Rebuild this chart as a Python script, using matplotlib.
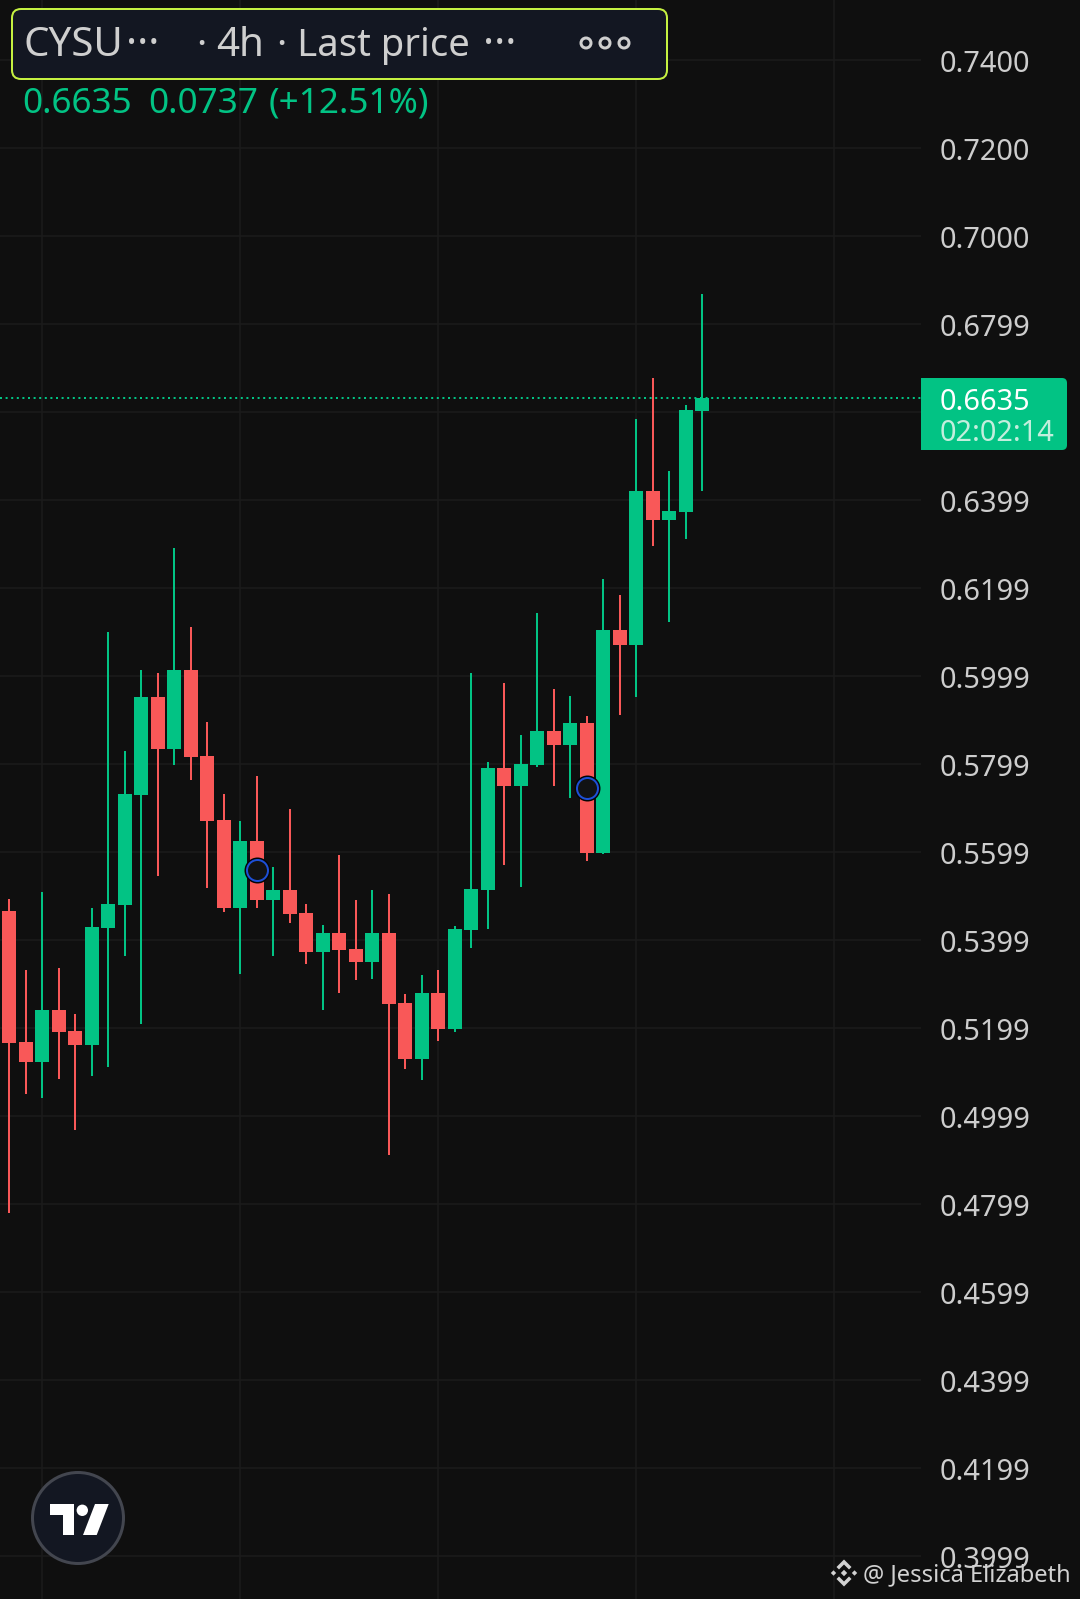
import matplotlib
matplotlib.use("Agg")
import matplotlib.pyplot as plt
from matplotlib.patches import Circle, FancyBboxPatch, Rectangle, Polygon
from matplotlib.transforms import ScaledTranslation

plt.rcParams['font.family'] = ['Noto Sans', 'DejaVu Sans']

highs = [.5493,.5331,.5509,.5337,.5232,.5472,.6100,.5830,.6013,.6006,.6292,.6112,.5895,.5732,.5671,.5773,.5566,.5698,.5482,.5434,.5593,.5491,
         .5514,.5505,.5278,.5321,.5332,.5432,.6007,.5804,.5985,.5866,.6144,.5971,.5955,.5909,.6221,.6184,.6584,.6677,.6466,.6616,.6868]
lows = [.4779,.5050,.5041,.5084,.4968,.5091,.5112,.5364,.5209,.5545,.5798,.5764,.5519,.5464,.5323,.5472,.5364,.5439,.5345,.5241,.5279,.5309,
        .5312,.4912,.5107,.5082,.5171,.5191,.5382,.5425,.5571,.5520,.5793,.5750,.5723,.5580,.5596,.5911,.5952,.6296,.6123,.6311,.6421]
opens = [.5466,.5168,.5123,.5241,.5193,.5161,.5427,.5479,.5730,.5952,.5834,.6013,.5819,.5672,.5472,.5625,.5491,.5513,.5461,.5372,.5416,.5379,
         .5350,.5416,.5257,.5130,.5280,.5198,.5423,.5514,.5791,.5750,.5798,.5875,.5843,.5894,.5598,.6105,.6071,.6421,.6355,.6373,.6602]
closes = [.5166,.5123,.5241,.5191,.5161,.5430,.5482,.5732,.5952,.5834,.6013,.5816,.5671,.5472,.5625,.5491,.5513,.5459,.5372,.5416,.5377,.5349,
          .5416,.5255,.5130,.5280,.5198,.5425,.5516,.5791,.5750,.5800,.5875,.5843,.5894,.5598,.6105,.6071,.6421,.6355,.6375,.6605,.6632]
tick_values = [.7399,.7199,.6999,.6799,.6599,.6399,.6199,.5999,.5799,.5599,.5399,.5199,.4999,.4799,.4599,.4399,.4199,.3999]
tick_labels = ['0.7400','0.7200','0.7000','0.6799','','0.6399','0.6199','0.5999','0.5799','0.5599','0.5399','0.5199','0.4999','0.4799','0.4599','0.4399','0.4199','0.3999']
vgrid_index = [2, 14, 26, 38, 50]
signal_index = [15, 35]
signal_price = [.5559, .5746]
last_line = 0.6632

BG = '#0f0f0f'; GRID = '#1b1b1b'; GREEN = '#02c384'; RED = '#f95858'; TXT = '#cdcdcd'
W, H = 1080, 1599
PT = 72 / 100  # points per pixel
STEP = 16.5

fig = plt.figure(figsize=(W / 100, H / 100), dpi=100, facecolor=BG)
ax = fig.add_axes([0, 0, 921 / W, 1])
ax.set_facecolor(BG)
ax.set_xlim(-9 / STEP, (921 - 9) / STEP)
ax.set_ylim(.6799 - 1274.5 / 4400, .6799 + 324.5 / 4400)
for s in ax.spines.values():
    s.set_visible(False)
ax.set_xticks(vgrid_index)
ax.set_xticklabels([])
ax.set_yticks(tick_values)
ax.set_yticklabels(tick_labels, fontsize=20.8, color=TXT)
ax.yaxis.tick_right()
ax.tick_params(axis='both', length=0, pad=18.5 * PT)
ax.grid(True, color=GRID, lw=1.6 * PT, zorder=0)
ax.set_axisbelow(True)
for lab in ax.get_yticklabels():
    lab.set_transform(lab.get_transform() + ScaledTranslation(0, -0.5 / 100, fig.dpi_scale_trans))

xs = list(range(len(opens)))
colors = [GREEN if c >= o else RED for o, c in zip(opens, closes)]
ax.vlines(xs, lows, highs, colors=colors, lw=2 * PT, zorder=2)
ax.bar(xs, [abs(c - o) for o, c in zip(opens, closes)], bottom=[min(o, c) for o, c in zip(opens, closes)],
       width=14 / STEP, color=colors, lw=0, zorder=3)
ax.axhline(last_line, color=GREEN, lw=2 * PT, linestyle=(0, (1.0, 1.8)), zorder=4)
ax.scatter(signal_index, signal_price, s=(26 * PT) ** 2, color='#050505', lw=0, zorder=5)
ax.scatter(signal_index, signal_price, s=(21 * PT) ** 2, facecolor='#111214', edgecolor='#1d4fd7', lw=2 * PT, zorder=6)

ov = fig.add_axes([0, 0, 1, 1])
ov.set_xlim(0, W); ov.set_ylim(H, 0); ov.axis('off'); ov.patch.set_alpha(0)

# header box
ov.add_patch(FancyBboxPatch((12 + 8, 9 + 8), 655 - 16, 70 - 16, boxstyle='round,pad=8,rounding_size=9',
                            fc='#131722', ec='#c5f141', lw=2 * PT))
hdr = dict(color='#cfcfcf', va='baseline', ha='left')
ov.text(24, 56, 'CYSU', fontsize=29, **hdr)
ov.text(126, 56, '···', fontsize=30, **hdr)
ov.text(196, 56, '·', fontsize=27.5, **hdr)
ov.text(216, 56, '4h', fontsize=29, **hdr)
ov.text(277, 56, '· Last price', fontsize=27.5, **hdr)
ov.text(483, 56, '···', fontsize=30, **hdr)
for cx in [586, 605, 624]:
    ov.add_patch(Circle((cx, 43), 5, fc='none', ec='#cfcfcf', lw=3 * PT))
sub = dict(fontsize=25.3, color=GREEN, va='baseline', ha='left')
ov.text(22, 113, '0.6635', **sub)
ov.text(148, 113, '0.0737', **sub)
ov.text(269, 113, '(+12.51%)', **sub)

# last-price tag
ov.add_patch(FancyBboxPatch((921 + 5, 378 + 5), 141 - 5, 72 - 10, boxstyle='round,pad=5,rounding_size=5', fc=GREEN, ec='none'))
ov.add_patch(Rectangle((921, 378), 20, 72, fc=GREEN, ec='none'))
ov.text(940, 410, '0.6635', fontsize=20.8, color='white', va='baseline', ha='left')
ov.text(940, 441, '02:02:14', fontsize=20.8, color='#c3eedd', va='baseline', ha='left')

# logo
ov.add_patch(Circle((78, 1518), 45.5, fc='#131722', ec='#43464f', lw=3 * PT))
ov.add_patch(Polygon([(50, 1504), (74, 1504), (74, 1535), (63.3, 1535), (63.3, 1515), (50, 1515)], fc='white', ec='none'))
ov.add_patch(Circle((82.3, 1510.3), 5.7, fc='white', ec='none'))
ov.add_patch(Polygon([(95, 1504), (108.7, 1504), (96.7, 1535), (83, 1535)], fc='white', ec='none'))

# bottom edge
ov.plot([0, W], [1598.5, 1598.5], color='#2a2d35', lw=1 * PT)

# watermark
wc = '#d2d2d2'
mx, my = 844, 1573
def dia(cx, cy, r):
    ov.add_patch(Polygon([(cx - r, cy), (cx, cy - r), (cx + r, cy), (cx, cy + r)], fc=wc, ec='none'))
dia(mx, my, 3.2); dia(mx - 10.5, my, 2.7); dia(mx + 10.5, my, 2.7)
ov.add_patch(Polygon([(mx, my - 13.5), (mx + 7.5, my - 6), (mx + 5, my - 3.5), (mx, my - 8.5), (mx - 5, my - 3.5), (mx - 7.5, my - 6)], fc=wc, ec='none'))
ov.add_patch(Polygon([(mx, my + 13.5), (mx + 7.5, my + 6), (mx + 5, my + 3.5), (mx, my + 8.5), (mx - 5, my + 3.5), (mx - 7.5, my + 6)], fc=wc, ec='none'))
ov.text(863, 1581, '@ Jessica Elizabeth', fontsize=17.05, color=wc, va='baseline', ha='left')

fig.savefig('out.png', dpi=100, facecolor=BG)
